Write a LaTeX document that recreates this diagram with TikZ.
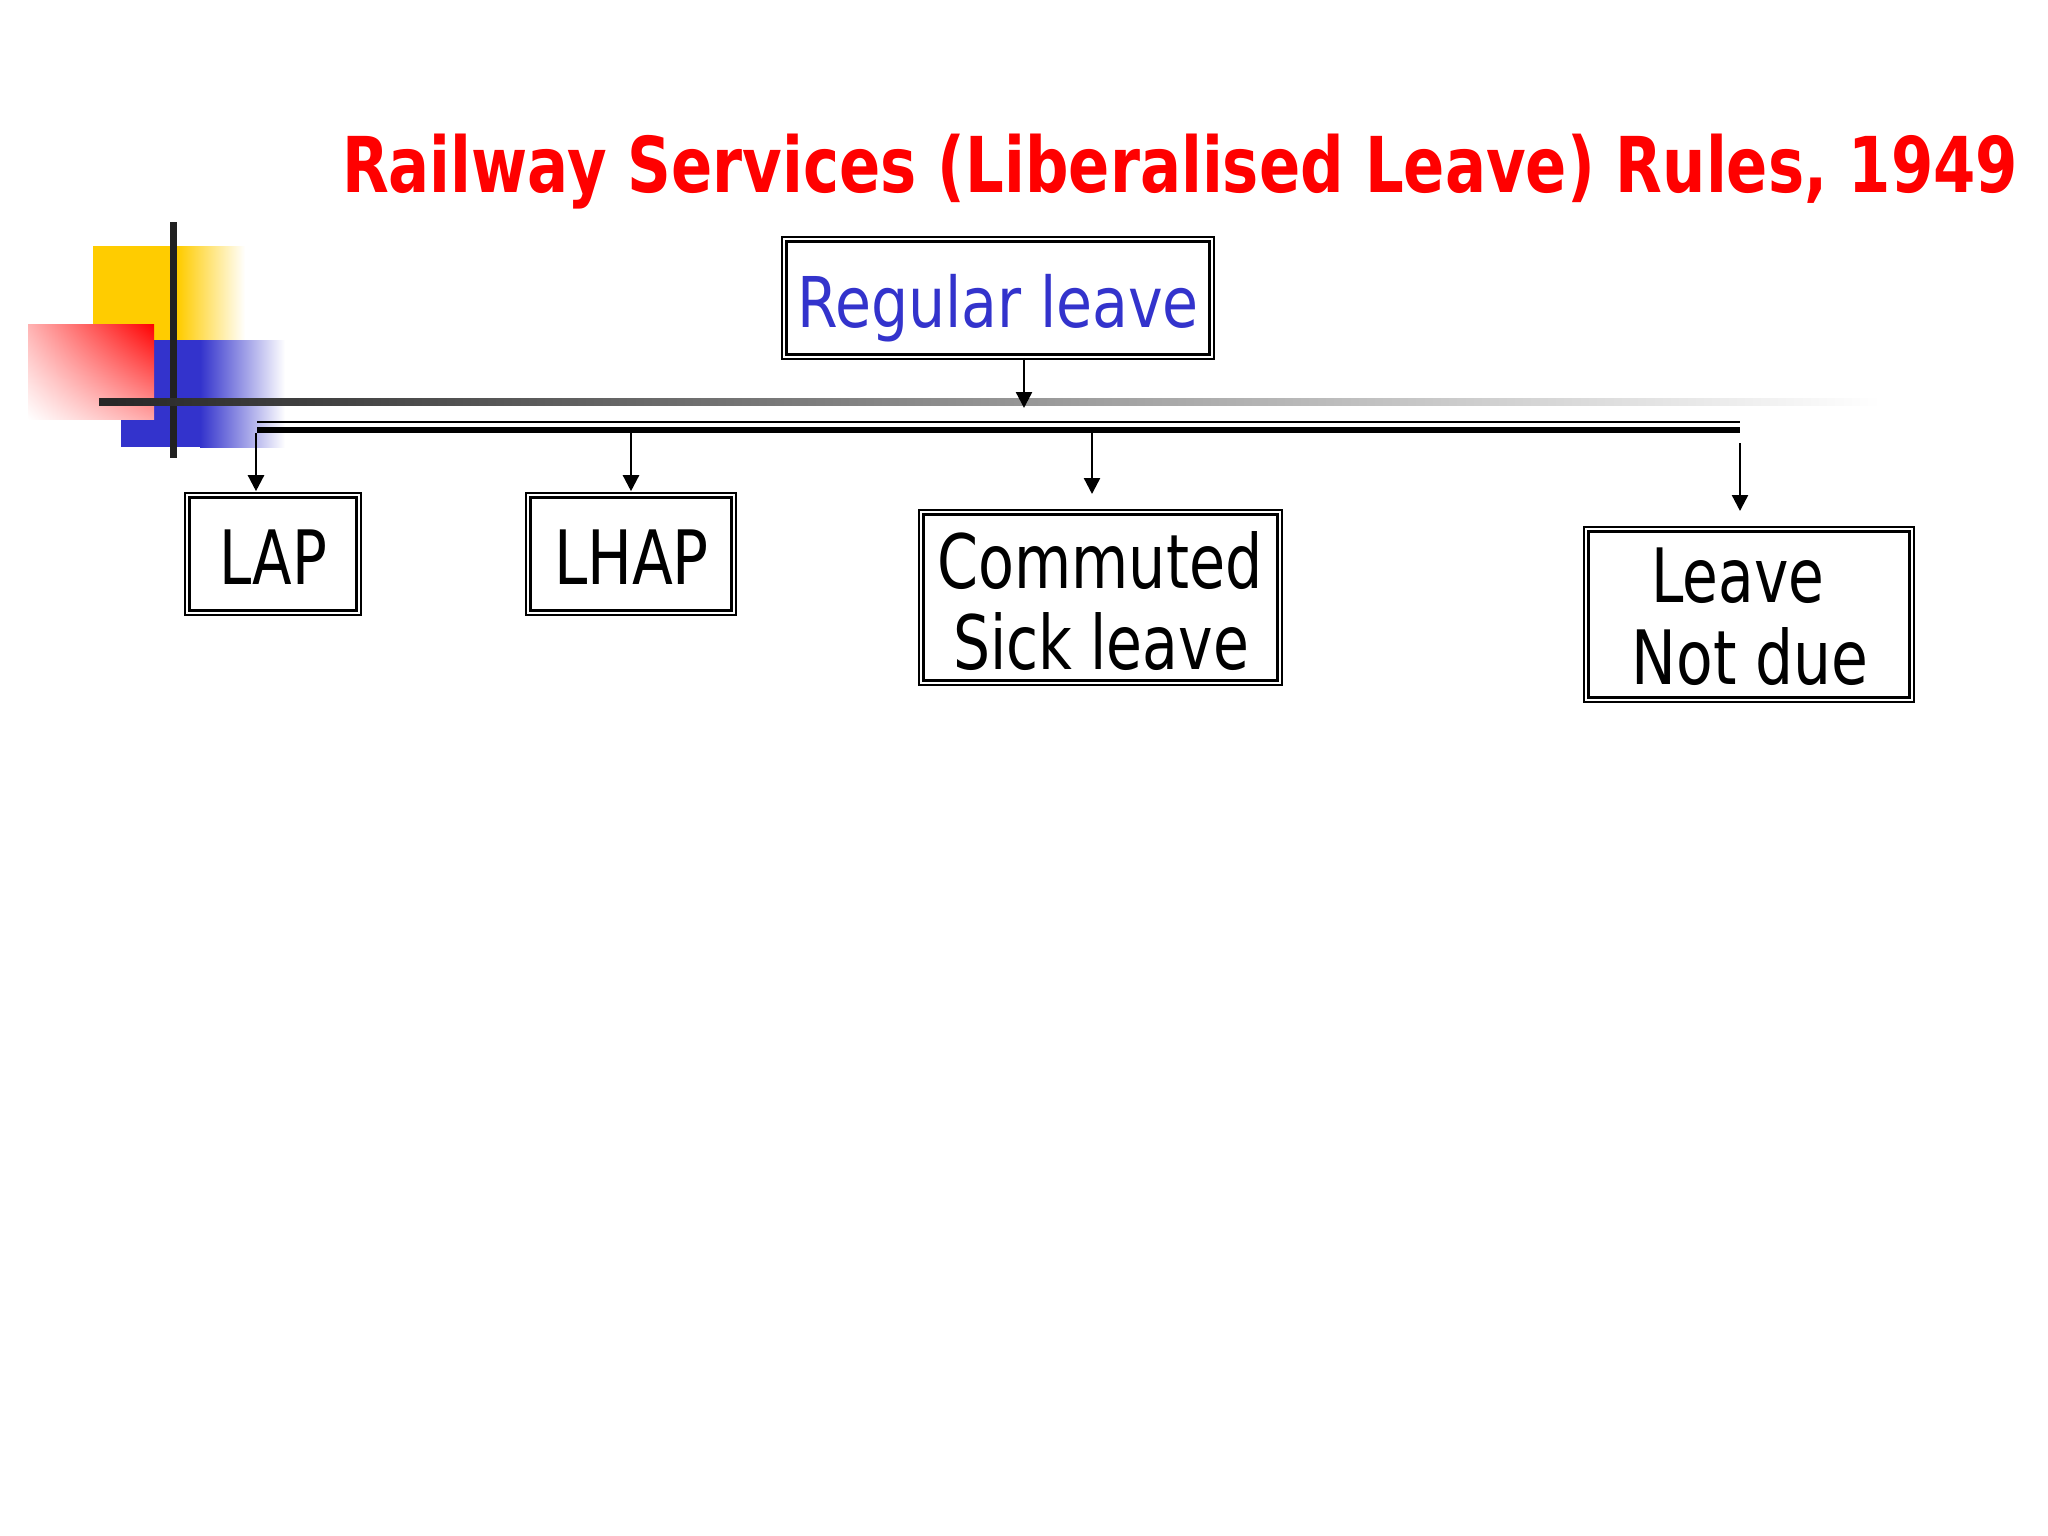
\documentclass[tikz,border=0pt]{standalone}
\usepackage{fontspec}
\setmainfont{DejaVu Sans}
\usetikzlibrary{arrows.meta,shadings}
\definecolor{titlered}{RGB}{255,0,0}
\definecolor{regblue}{RGB}{51,51,204}
\definecolor{logoyellow}{RGB}{255,204,0}
\definecolor{logoblue}{RGB}{51,51,204}
\newsavebox\fitsave
\newcommand\fitw[2]{\sbox\fitsave{#2}\resizebox{#1}{\ht\fitsave}{\usebox\fitsave}}
\begin{document}
\begin{tikzpicture}[x=1pt,y=-1pt,
  dbox/.style={rectangle, draw=black, line width=2.2pt, double=white, double distance=2.2pt, inner sep=0pt},
  txt/.style={anchor=base, inner sep=0pt, font=\fontsize{75}{81}\selectfont},
  arr/.style={line width=2.4pt, -{Triangle[length=16pt,width=16pt]}}]
\useasboundingbox (0,0) rectangle (2048,1536);
\fill[white] (0,0) rectangle (2048,1536);
% logo
\fill[logoyellow] (93,246) rectangle (178,340);
\shade[left color=logoyellow, right color=white] (178,246) rectangle (245,340);
\fill[logoblue] (121,340) rectangle (200,447);
\shade[left color=logoblue, right color=white] (200,340) rectangle (285,447);
\shade[upper left=red!30, upper right=red, lower left=white, lower right=red!35] (28,324) rectangle (154,419);
\draw[line width=7pt, black!87] (173,222) -- (173,458);
\shade[left color=black!85, middle color=black!45, right color=white] (99,398.5) rectangle (1880,405.5);
% title
\node[anchor=base, inner sep=0pt, text=titlered, font=\bfseries\fontsize{77}{80}\selectfont] (title) at (1180,192)
  {\fitw{1676pt}{Railway Services (Liberalised Leave) Rules, 1949}};
% boxes
\node[dbox, minimum width=427.4pt, minimum height=117.4pt] (reg) at (998,298) {};
\node[dbox, minimum width=171.4pt, minimum height=117.4pt] (lap) at (273,554) {};
\node[dbox, minimum width=205.4pt, minimum height=117.4pt] (lhap) at (631,554) {};
\node[dbox, minimum width=358.4pt, minimum height=170.4pt] (com) at (1100.5,597.5) {};
\node[dbox, minimum width=325.4pt, minimum height=170.4pt] (lnd) at (1749,614.5) {};
% texts
\node[anchor=base, inner sep=0pt, text=regblue, font=\fontsize{70}{76}\selectfont] (regt) at (998,327) {\fitw{402pt}{Regular leave}};
\node[txt] (lapt) at (273,584) {\fitw{108pt}{LAP}};
\node[txt] (lhapt) at (631.5,584) {\fitw{155pt}{LHAP}};
\node[txt] (comt1) at (1100,588) {\fitw{325pt}{Commuted}};
\node[txt] (comt2) at (1101,669) {\fitw{296pt}{Sick leave}};
\node[txt] (lndt1) at (1738,602) {\fitw{173pt}{Leave}};
\node[txt] (lndt2) at (1750,684) {\fitw{237pt}{Not due}};
% bus bar
\coordinate (busL) at (257,422);
\coordinate (busR) at (1740,422);
\draw[line width=2pt] (busL) -- (busR);
\draw[line width=6.5pt] ([yshift=-8pt]busL) -- ([yshift=-8pt]busR);
% arrows
\coordinate (g1) at (1024,408);
\draw[arr] (reg.south -| g1) -- (g1);
\coordinate (b1) at (256,433);
\coordinate (b2) at (631,433);
\coordinate (b3) at (1092,433);
\coordinate (c3) at (1092,494);
\coordinate (b4) at (1740,443);
\coordinate (c4) at (1740,511);
\draw[arr, shorten >=3pt] (b1) -- (b1 |- lap.north);
\draw[arr, shorten >=3pt] (b2) -- (b2 |- lhap.north);
\draw[arr] (b3) -- (c3);
\draw[arr] (b4) -- (c4);
\end{tikzpicture}
\end{document}
